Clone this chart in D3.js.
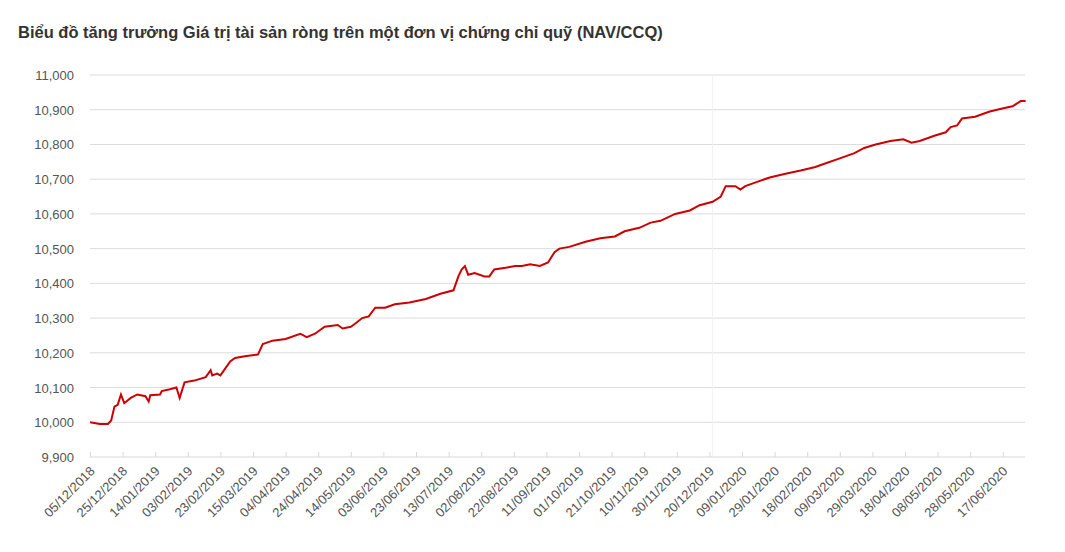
<!DOCTYPE html>
<html><head><meta charset="utf-8">
<script src="https://cdn.jsdelivr.net/npm/d3@7"></script>
<style>body{margin:0;background:#fff;font-family:Arial,"Liberation Sans",sans-serif;}</style>
</head><body><div id="chart"></div>
<script>
// days since 05/12/2018
var days = [0,6,11,13,15,17,19,21,25,29,34,36,37,43,44,49,53,55,58,64,71,74,75,78,80,86,89,95,103,106,112,120,129,133,138,144,152,155,160,163,167,171,175,181,187,196,206,215,223,226,228,230,232,236,242,245,248,255,261,265,270,276,281,285,288,294,304,313,322,328,337,344,350,359,368,374,382,387,390,396,399,402,411,417,426,436,445,451,460,469,475,482,491,499,504,509,518,525,528,532,535,543,552,561,566,571,574];
var nav = [10000,9995,9995,10005,10045,10050,10080,10055,10070,10080,10075,10060,10078,10080,10090,10095,10100,10070,10115,10120,10130,10150,10135,10140,10135,10175,10185,10190,10195,10225,10235,10240,10255,10245,10255,10275,10280,10270,10275,10285,10300,10305,10330,10330,10340,10345,10355,10370,10380,10420,10440,10450,10425,10430,10420,10420,10440,10445,10450,10450,10455,10450,10460,10490,10500,10505,10520,10530,10535,10550,10560,10575,10580,10600,10610,10625,10635,10650,10680,10680,10670,10680,10695,10705,10715,10725,10735,10745,10760,10775,10790,10800,10810,10815,10805,10810,10825,10835,10850,10855,10875,10880,10895,10905,10910,10925,10925];
var yTicks = [9900,10000,10100,10200,10300,10400,10500,10600,10700,10800,10900,11000];
var startDate = new Date(2018, 11, 5);
var tickStep = 20, tickCount = 29;

var W = 1065, H = 552, mLeft = 90, mRight = 1025, mTop = 75, mBottom = 457;
var dayMs = 86400000;
var dates = days.map(function(d){ return new Date(startDate.getTime() + d*dayMs); });
var tickDates = d3.range(tickCount).map(function(i){ return new Date(startDate.getTime() + i*tickStep*dayMs); });

var svg = d3.select("#chart").append("svg").attr("width", W).attr("height", H);
svg.append("text").attr("x", 18).attr("y", 38).text("Biểu đồ tăng trưởng Giá trị tài sản ròng trên một đơn vị chứng chỉ quỹ (NAV/CCQ)")
	.style("font-size", "16.5px").style("font-weight", "bold").style("fill", "#333");

var x = d3.scaleTime().domain([startDate, new Date(startDate.getTime() + 574*dayMs)]).range([mLeft, mLeft + 574*32.6/20]);
var y = d3.scaleLinear().domain([9900, 11000]).range([mBottom, mTop]);

// grid
svg.append("g").selectAll("line").data(yTicks.slice(1)).enter().append("line")
	.attr("x1", mLeft).attr("x2", mRight).attr("y1", function(d){return y(d);}).attr("y2", function(d){return y(d);})
	.style("stroke", "#dcdcdc").style("stroke-width", 1);
svg.append("line").attr("x1", x(new Date(2019,11,20))+3).attr("x2", x(new Date(2019,11,20))+3).attr("y1", mTop).attr("y2", mBottom).style("stroke", "#f2f2f2");

// y axis labels
svg.append("g").selectAll("text").data(yTicks).enter().append("text")
	.attr("x", 74).attr("y", function(d){return y(d) + 5;}).attr("text-anchor", "end")
	.text(d3.format(",")).style("font-size", "13px").style("fill", "#555");

// x axis
var xAxis = svg.append("g").attr("transform", "translate(0," + mBottom + ")")
	.call(d3.axisBottom(x).tickValues(tickDates).tickFormat(d3.timeFormat("%d/%m/%Y")).tickSize(5).tickSizeOuter(0));
xAxis.select(".domain").attr("d", "M" + mLeft + ",0H" + mRight).style("stroke", "#d9d9d9");
xAxis.selectAll(".tick line").style("stroke", "#d9d9d9").attr("y1", -5).attr("y2", 0);
xAxis.selectAll(".tick text").attr("text-anchor", "end").attr("dy", 0).attr("y", 0)
	.attr("transform", "translate(5,15) rotate(-45)").style("font-size", "13px").style("fill", "#555").style("font-family", "Arial,'Liberation Sans',sans-serif");

var line = d3.line().x(function(d, i){return x(dates[i]);}).y(function(d){return y(d);});
svg.append("path").datum(nav).attr("d", line).style("fill", "none").style("stroke", "#cc0000").style("stroke-width", 2);
</script></body></html>
